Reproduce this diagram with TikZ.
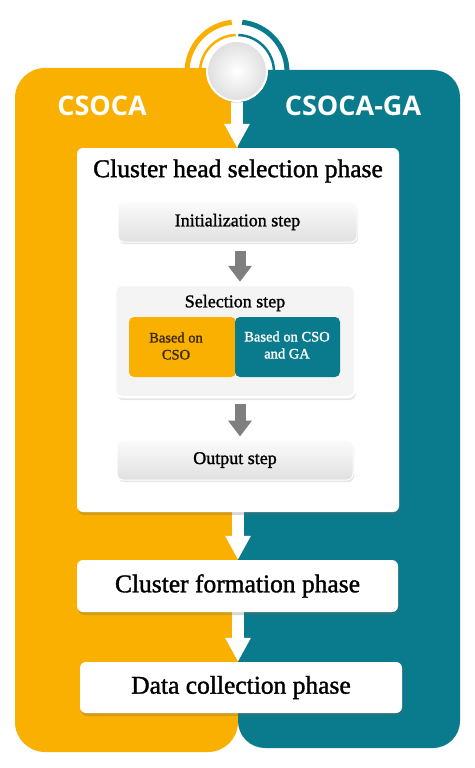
\documentclass[tikz,border=0pt]{standalone}
\usepackage{fontspec}
\setmainfont{Liberation Serif}[FakeBold=1.4]
\newfontfamily\headfont{Open Sans}
\usetikzlibrary{arrows.meta,shadows}
\definecolor{corange}{HTML}{FAB000}
\definecolor{cteal}{HTML}{0A7B8C}
\definecolor{garrow}{HTML}{7F7F7F}
\definecolor{otext}{HTML}{3A2A0A}
\pgfdeclarelayer{bg}
\pgfdeclarelayer{mid}
\pgfsetlayers{bg,mid,main}
\begin{document}
\begin{tikzpicture}[x=1pt,y=-1pt,
  whitebox/.style={fill=white, rounded corners=6pt, inner sep=0pt,
    drop shadow={shadow xshift=1pt, shadow yshift=-3pt, opacity=0.25, fill=black!60}},
  stepbox/.style={shade, top color=gray!3, bottom color=gray!24, draw=white, line width=1pt,
    rounded corners=6pt, inner sep=0pt,
    drop shadow={shadow xshift=1pt, shadow yshift=-2pt, opacity=0.2}},
  selbox/.style={fill=gray!9, draw=white, line width=2.5pt, rounded corners=7pt, inner sep=0pt,
    drop shadow={shadow xshift=1pt, shadow yshift=-3pt, opacity=0.2}},
  bigtxt/.style={font=\fontsize{25.5}{30}\selectfont, text=black},
  smalltxt/.style={font=\fontsize{18}{21}\selectfont, text=black},
  tinytxt/.style={font=\fontsize{14.5}{17}\selectfont, align=center},
  headtxt/.style={font=\headfont\bfseries\fontsize{27}{32}\selectfont, text=white},
  whitearrow/.style={draw=white, line width=12pt, -{Triangle[width=24pt,length=24pt]}},
  grayarrow/.style={draw=garrow, line width=11pt, -{Triangle[width=23pt,length=16pt]}},
]
\useasboundingbox (0,0) rectangle (474,768);

% background panels and arcs
\begin{pgfonlayer}{bg}
\begin{scope}[shift={(237,72)},x=1pt,y=1pt]
  \draw[corange,line width=5pt] (178:50) arc[start angle=178,end angle=96,radius=50];
  \draw[cteal,line width=5pt] (84:50) arc[start angle=84,end angle=2,radius=50];
  \draw[corange,line width=2.5pt] (180:37) arc[start angle=180,end angle=92,radius=37];
  \draw[cteal,line width=2.5pt] (88:37) arc[start angle=88,end angle=0,radius=37];
\end{scope}
\fill[corange, rounded corners=30pt] (15,68) rectangle (238,752);
\fill[cteal, rounded corners=27pt] (238,70) rectangle (460,748);
\end{pgfonlayer}

% hub circle
\node[circle, minimum size=60pt, inner sep=0pt, shade, inner color=white, outer color=gray!25,
  draw=white, line width=2pt,
  drop shadow={shadow xshift=0pt, shadow yshift=-2pt, opacity=0.2}] (hub) at (237,71) {};

% titles
\node[headtxt] (tl) at (102,106) {CSOCA};
\node[headtxt] (tr) at (353,106) {CSOCA-GA};

% main boxes
\node[whitebox, minimum width=322pt, minimum height=364pt] (chs) at (238,330) {};
\node[bigtxt] (chst) at (238,171) {Cluster head selection phase};

\node[stepbox, minimum width=239pt, minimum height=40pt] (init) at (237.5,222) {};
\node[smalltxt] (initt) at (init.center) {Initialization step};

\node[selbox, minimum width=240pt, minimum height=112pt] (sel) at (235,341) {};
\node[smalltxt] (selt) at (235,303) {Selection step};
\node[fill=corange, rounded corners=5pt, minimum width=107pt, minimum height=60pt, inner sep=0pt] (cso) at (182.5,347) {};
\node[fill=cteal, rounded corners=5pt, minimum width=105pt, minimum height=60pt, inner sep=0pt] (csoga) at (287.5,347) {};
\node[tinytxt, text=otext] (csot) at (176,346) {Based on\\CSO};
\node[tinytxt, text=white] (csogat) at (287,345) {Based on CSO\\and GA};

\node[stepbox, minimum width=236pt, minimum height=40pt] (out) at (235,460) {};
\node[smalltxt] (outt) at (out.center) {Output step};

\node[whitebox, minimum width=321pt, minimum height=52pt] (cfp) at (237.5,586) {};
\node[bigtxt] (cfpt) at (cfp.center) {Cluster formation phase};

\node[whitebox, minimum width=322pt, minimum height=51pt] (dcp) at (241,687.5) {};
\node[bigtxt] (dcpt) at (dcp.center) {Data collection phase};

% connectors
\begin{pgfonlayer}{mid}
\draw[whitearrow] (hub.south) -- (hub.south |- chs.north);
\draw[whitearrow] (238,512) coordinate (a2) -- (a2 |- cfp.north);
\draw[whitearrow] (238,612) coordinate (a3) -- (a3 |- dcp.north);
\end{pgfonlayer}
\draw[grayarrow, shorten <=9pt, shorten >=2pt] (240,242) coordinate (g1) -- (g1 |- sel.north);
\draw[grayarrow, shorten <=7pt, shorten >=3pt] (240,397) coordinate (g2) -- (g2 |- out.north);
\end{tikzpicture}
\end{document}
